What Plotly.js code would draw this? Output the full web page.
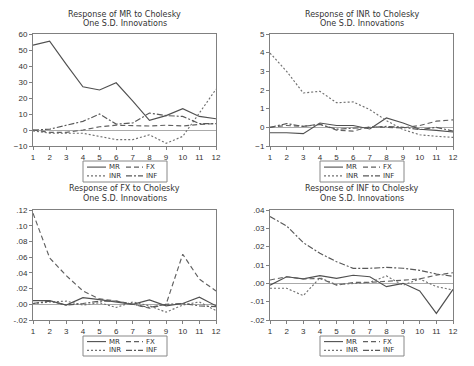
<!DOCTYPE html>
<html><head><meta charset="utf-8">
<script src="https://cdn.plot.ly/plotly-3.0.1.min.js"></script>
<style>html,body{margin:0;padding:0;background:#fff;}#chart{width:474px;height:366px;}</style>
</head><body><div id="chart"></div>
<script>
const periods = [1,2,3,4,5,6,7,8,9,10,11,12];
const shockNames = ['MR','FX','INR','INF'];

// Response of MR
const mrToMR  = [53,55.5,41,27,25,29.5,18,6,9,13.3,8.5,7];
const mrToFX  = [0,-1.5,-1.5,0,2,3,2.7,2.5,3,2.5,3.5,4];
const mrToINR = [-0.5,-2,-2,-2,-4,-6,-6,-3,-8.3,-4,10.6,25.5];
const mrToINF = [0,0.5,3,5.4,10,3.7,4.4,10.6,9,8.5,4,4];

// Response of INR
const inrToMR  = [-0.29,-0.29,-0.34,0.23,0.1,0.1,-0.09,0.5,0.23,-0.1,-0.16,-0.25];
const inrToFX  = [0,0.1,0.05,0.18,-0.15,-0.2,0.03,0,-0.03,0.1,0.33,0.4];
const inrToINR = [3.98,3.0,1.84,1.93,1.32,1.36,0.95,0.36,-0.12,-0.4,-0.48,-0.54];
const inrToINF = [0,0.2,0.05,0.15,-0.1,-0.05,0,0.05,0,-0.12,0,-0.2];

// Response of FX
const fxToMR  = [0.0047,0.0047,-0.001,0.0085,0.006,0.0034,0,0.0055,-0.002,0.001,0.009,-0.002];
const fxToFX  = [0.116,0.059,0.0365,0.017,0.0068,0.0042,0,-0.005,0,0.0637,0.032,0.017];
const fxToINR = [0.001,0.003,0.004,-0.001,0.002,-0.004,0.003,-0.002,-0.01,-0.001,0.003,-0.008];
const fxToINF = [0.001,0.004,-0.001,0.001,0.004,0.004,0,-0.004,0,0.001,-0.002,-0.003];

// Response of INF
const infToMR  = [-0.001,0.0036,0.0024,0.0042,0.0027,0.0044,0.0036,-0.0018,0,-0.0042,-0.0164,-0.0033];
const infToFX  = [0.0018,0.0036,0.0024,0.0027,-0.001,0.0005,0.0005,0.0013,0.0017,0.0024,0.0045,0.0058];
const infToINR = [-0.0027,-0.0027,-0.0067,0.003,-0.0007,0,0.0005,0.004,-0.001,0.0024,-0.0018,-0.0036];
const infToINF = [0.0364,0.0313,0.0222,0.0164,0.0118,0.0082,0.0082,0.0087,0.0082,0.0071,0.0051,0.0038];

const panelTitles = ['Response of MR to Cholesky','Response of INR to Cholesky','Response of FX to Cholesky','Response of INF to Cholesky'];
const subTitle = 'One S.D. Innovations';

const ticks1 = [-10,0,10,20,30,40,50,60];
const ticks2 = [-1,0,1,2,3,4,5];
const ticks3 = [-0.02,0,0.02,0.04,0.06,0.08,0.10,0.12];
const ticks3Text = ['-.02','.00','.02','.04','.06','.08','.10','.12'];
const ticks4 = [-0.02,-0.01,0,0.01,0.02,0.03,0.04];
const ticks4Text = ['-.02','-.01','.00','.01','.02','.03','.04'];

const panelData = [
  [mrToMR, mrToFX, mrToINR, mrToINF],
  [inrToMR, inrToFX, inrToINR, inrToINF],
  [fxToMR, fxToFX, fxToINR, fxToINF],
  [infToMR, infToFX, infToINR, infToINF]
];

const W = 474, H = 366;
const px = x => x / W;
const py = y => 1 - y / H;

const dashes = {MR:'solid', FX:'5px,3px', INR:'2px,2px', INF:'6px,2px,2px,2px'};
const colors = {MR:'#505050', FX:'#606060', INR:'#707070', INF:'#585858'};
const titleFont = 'DejaVu Sans, Liberation Sans, sans-serif';

const boxes = [
  {l:33, r:216, t:34, b:146},
  {l:270, r:453, t:34, b:146},
  {l:33, r:216, t:210, b:320},
  {l:270, r:453, t:210, b:320}
];
const legendBoxes = [
  {l:83, t:161, b:182},
  {l:320, t:161, b:182},
  {l:83, t:336, b:356},
  {l:320, t:336, b:356}
];
const titleY = [[14.3,23.8],[14.3,23.8],[188.5,198],[188.5,198]];
const yRanges = [[-10,60],[-1,5],[-0.02,0.12],[-0.02,0.04]];
const yTicks = [[ticks1,null],[ticks2,null],[ticks3,ticks3Text],[ticks4,ticks4Text]];

const traces = [];
const layout = {
  width: W, height: H,
  margin: {l:0, r:0, t:0, b:0},
  paper_bgcolor: '#fff', plot_bgcolor: '#fff',
  showlegend: false,
  font: {family: 'Liberation Sans, Arial, sans-serif', color: '#333', size: 8},
  shapes: [], annotations: []
};

boxes.forEach((b, i) => {
  const sfx = i === 0 ? '' : String(i + 1);
  const xa = 'xaxis' + sfx, ya = 'yaxis' + sfx;
  const axStyle = {
    showline: true, mirror: true, linecolor: '#808080', linewidth: 1,
    ticks: 'outside', ticklen: 3, tickcolor: '#808080', showgrid: false,
    tickfont: {size: 8, color: '#333'}
  };
  layout[xa] = Object.assign({}, axStyle, {
    domain: [px(b.l), px(b.r)], range: [1, 12], tickvals: periods,
    anchor: 'y' + sfx, zeroline: false
  });
  const yt = yTicks[i];
  layout[ya] = Object.assign({}, axStyle, {
    domain: [py(b.b), py(b.t)], range: yRanges[i], tickvals: yt[0],
    anchor: 'x' + sfx, zeroline: true, zerolinecolor: '#aaa', zerolinewidth: 1
  });
  if (yt[1]) layout[ya].ticktext = yt[1];

  shockNames.forEach((s, k) => {
    traces.push({
      x: periods, y: panelData[i][k], name: s, type: 'scatter', mode: 'lines',
      xaxis: 'x' + sfx, yaxis: 'y' + sfx,
      line: {color: colors[s], width: 1.15, dash: dashes[s]},
      hoverinfo: 'skip'
    });
  });

  const cx = px((b.l + b.r) / 2);
  layout.annotations.push({xref:'paper', yref:'paper', x: cx, y: py(titleY[i][0]), text: panelTitles[i],
    showarrow:false, xanchor:'center', yanchor:'middle', font:{size:8, color:'#333', family: titleFont}});
  layout.annotations.push({xref:'paper', yref:'paper', x: cx, y: py(titleY[i][1]), text: subTitle,
    showarrow:false, xanchor:'center', yanchor:'middle', font:{size:8, color:'#333', family: titleFont}});

  const lb = legendBoxes[i];
  layout.shapes.push({type:'rect', xref:'paper', yref:'paper', x0: px(lb.l), x1: px(lb.l + 84),
    y0: py(lb.b), y1: py(lb.t), line:{color:'#888', width:1}, fillcolor:'rgba(0,0,0,0)'});
  const mid = (lb.t + lb.b) / 2;
  const rows = [mid - 4.4, mid + 4.4];
  const items = [
    {s:'MR', col:0, row:0}, {s:'FX', col:1, row:0},
    {s:'INR', col:0, row:1}, {s:'INF', col:1, row:1}
  ];
  items.forEach(it => {
    const x0 = lb.l + (it.col === 0 ? 4 : 43);
    const x1 = lb.l + (it.col === 0 ? 23 : 60);
    const yy = rows[it.row];
    layout.shapes.push({type:'line', xref:'paper', yref:'paper', x0: px(x0), x1: px(x1),
      y0: py(yy), y1: py(yy), line:{color: colors[it.s], width:1.1, dash: dashes[it.s]}});
    layout.annotations.push({xref:'paper', yref:'paper', x: px(x1 + 2), y: py(yy), text: it.s,
      showarrow:false, xanchor:'left', yanchor:'middle', borderpad:0,
      font:{size:7, color:'#333', family: titleFont}});
  });
});

Plotly.newPlot('chart', traces, layout, {staticPlot: true, displayModeBar: false});
</script>
</body></html>
